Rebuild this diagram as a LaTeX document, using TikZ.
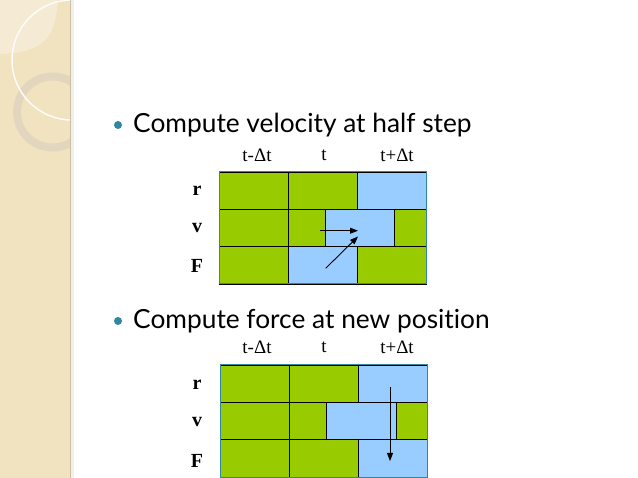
\documentclass[tikz,border=0pt]{standalone}
\usepackage{fontspec}
\setmainfont{Liberation Serif}
\newfontfamily\bulletfont[Ligatures={NoCommon,NoDiscretionary,NoRare}]{Lato}
\usetikzlibrary{arrows.meta}
\definecolor{cgreen}{RGB}{153,204,0}
\definecolor{cblue}{RGB}{153,204,255}
\definecolor{cteal}{RGB}{49,134,160}
\definecolor{cbeige}{RGB}{241,226,192}
\definecolor{cbeigeedge}{RGB}{205,190,160}
\definecolor{cring}{RGB}{226,214,190}
\tikzset{
  cell/.style={draw=black, line width=0.8pt, anchor=north west, inner sep=0pt, outer sep=0pt},
  gcell/.style={cell, fill=cgreen},
  bcell/.style={cell, fill=cblue},
  rowlab/.style={font=\fontsize{20}{20}\selectfont\bfseries, inner sep=0pt},
  collab/.style={font=\fontsize{19}{19}\selectfont, inner sep=0pt},
  bullettext/.style={font=\bulletfont\fontsize{26.3}{26.3}\selectfont, anchor=west, inner sep=0pt},
  bulletdot/.style={circle, fill=cteal, inner sep=0pt, minimum size=8pt},
  gridframe/.style={draw=cteal, line width=1pt},
  arr/.style={line width=0.9pt, -{Triangle[length=8pt,width=6pt]}}
}
\begin{document}
\begin{tikzpicture}[x=1pt,y=-1pt]
\useasboundingbox (0,0) rectangle (638,478);
\fill[white] (0,0) rectangle (638,478);
% left decorative strip
\fill[cbeige] (0,0) rectangle (70,478);
\begin{scope}
  \clip (0,0) rectangle (70,478);
  \fill[white, opacity=0.3] (0,0) -- (58,0) .. controls (55,38) and (45,52) .. (0,54) -- cycle;
  \draw[cring, line width=8pt] (52.5,112) circle (35.5);
  \draw[white!90!cbeige, line width=1.5pt] (72,60) circle (60);
\end{scope}
\draw[cbeigeedge, line width=1pt] (70,0) -- (70,478);
\fill[black, opacity=0.06] (70.5,0) rectangle (74,478);

% bullet 1
\node[bulletdot] (b1) at (118,125) {};
\node[bullettext] (t1) at (133,125) {Compute velocity at half step};
% column labels 1
\node[collab] (c1a) at (257,155) {t-Δt};
\node[collab] (c1b) at (324,155) {t};
\node[collab] (c1c) at (397,155) {t+Δt};
% row labels 1
\node[rowlab] (r1) at (197,191) {r};
\node[rowlab] (v1) at (197,228) {v};
\node[rowlab] (f1) at (197,266) {F};
% grid 1
\node[gcell, minimum width=69.3pt, minimum height=37.3pt] (a11) at (219,172) {};
\node[gcell, minimum width=69pt, minimum height=37.3pt] (a12) at (288.3,172) {};
\node[bcell, minimum width=69.4pt, minimum height=37.3pt] (a13) at (357.3,172) {};
\node[gcell, minimum width=69.3pt, minimum height=37.4pt] (a21) at (219,209.3) {};
\node[gcell, minimum width=37.4pt, minimum height=37.4pt] (a22) at (288.3,209.3) {};
\node[bcell, minimum width=68.3pt, minimum height=37.4pt] (a23) at (325.7,209.3) {};
\node[gcell, minimum width=32.7pt, minimum height=37.4pt] (a24) at (394,209.3) {};
\node[gcell, minimum width=69.3pt, minimum height=37.3pt] (a31) at (219,246.7) {};
\node[bcell, minimum width=69pt, minimum height=37.3pt] (a32) at (288.3,246.7) {};
\node[gcell, minimum width=69.4pt, minimum height=37.3pt] (a33) at (357.3,246.7) {};
\draw[gridframe] (a11.north west) rectangle (a33.south east);
\coordinate (p1s) at (320,230.7);
\coordinate (p1e) at (358,230.7);
\coordinate (p2s) at (325.7,268.3);
\coordinate (p2e) at (358,236.5);
\draw[arr] (p1s) -- (p1e);
\draw[arr] (p2s) -- (p2e);

% bullet 2
\node[bulletdot] (b2) at (118,321) {};
\node[bullettext] (t2) at (133,321) {Compute force at new position};
% column labels 2
\node[collab] (c2a) at (257,347) {t-Δt};
\node[collab] (c2b) at (324,347) {t};
\node[collab] (c2c) at (397,347) {t+Δt};
% row labels 2
\node[rowlab] (r2) at (197,385) {r};
\node[rowlab] (v2) at (197,422) {v};
\node[rowlab] (f2) at (197,461) {F};
% grid 2
\node[gcell, minimum width=69pt, minimum height=37.3pt] (b11) at (220,365) {};
\node[gcell, minimum width=69pt, minimum height=37.3pt] (b12) at (289,365) {};
\node[bcell, minimum width=69pt, minimum height=37.3pt] (b13) at (358,365) {};
\node[gcell, minimum width=69pt, minimum height=37pt] (b21) at (220,402.3) {};
\node[gcell, minimum width=37.7pt, minimum height=37pt] (b22) at (289,402.3) {};
\node[bcell, minimum width=69.3pt, minimum height=37pt] (b23) at (326.7,402.3) {};
\node[gcell, minimum width=31pt, minimum height=37pt] (b24) at (396,402.3) {};
\node[gcell, minimum width=69pt, minimum height=38pt] (b31) at (220,439.3) {};
\node[gcell, minimum width=69pt, minimum height=38pt] (b32) at (289,439.3) {};
\node[bcell, minimum width=69pt, minimum height=38pt] (b33) at (358,439.3) {};
\draw[gridframe] (b11.north west) rectangle (b33.south east);
\coordinate (q1s) at (390,386.7);
\coordinate (q1e) at (390,461);
\draw[arr] (q1s) -- (q1e);
\end{tikzpicture}
\end{document}
